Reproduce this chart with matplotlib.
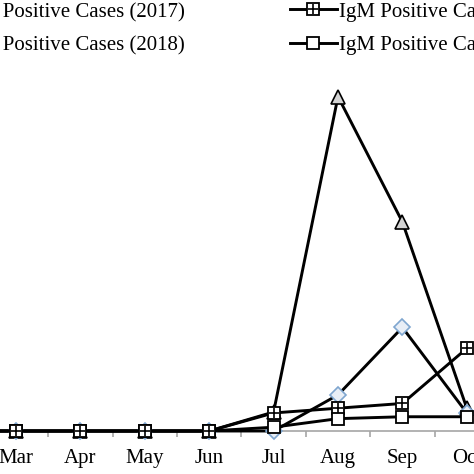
import numpy as np
import matplotlib
matplotlib.use("Agg")
import matplotlib.pyplot as plt

plt.rcParams['font.family'] = ['Liberation Serif', 'DejaVu Serif']

months = ["Jan", "Feb", "Mar", "Apr", "May", "Jun", "Jul", "Aug", "Sep", "Oct"]
igg_2017 = [0, 0, 0, 0, 0, 0, 2.0, 35.2, 22.0, 2.4]
igg_2018 = [0, 0, 0, 0, 0, 0, 0, 3.8, 10.9, 1.9]
igm_2017 = [0, 0, 0, 0, 0, 0, 1.9, 2.4, 2.9, 8.7]
igm_2018 = [0, 0, 0, 0, 0, 0, 0.4, 1.3, 1.5, 1.5]

x = np.arange(len(months))

fig = plt.figure(figsize=(4.74, 4.74), dpi=100)
ax = fig.add_axes([0, 43 / 474, 1, 431 / 474])

lw = 2.1
l1, = ax.plot(x, igg_2017, color='black', lw=lw, marker='^', ms=9.5,
              mfc='#d4d4d4', mec='black', mew=1.2, clip_on=False, zorder=3)
l2, = ax.plot(x, igg_2018, color='black', lw=lw, marker='D', ms=8,
              mfc='#e8eef6', mec='#7fa6cf', mew=1.2, clip_on=False, zorder=3)
l3, = ax.plot(x, igm_2017, color='black', lw=lw, marker='s', ms=9,
              mfc='white', mec='black', mew=1.3, clip_on=False, zorder=4)
l3b, = ax.plot(x, igm_2017, ls='none', marker='+', ms=6.5,
               mec='black', mew=1.2, clip_on=False, zorder=5)
l4, = ax.plot(x, igm_2018, color='black', lw=lw, marker='s', ms=9,
              mfc='white', mec='black', mew=1.3, clip_on=False, zorder=4)

for s in ['left', 'right', 'top']:
    ax.spines[s].set_visible(False)
ax.spines['bottom'].set_color('#a6a6a6')
ax.spines['bottom'].set_linewidth(1.2)
ax.set_yticks([])

ax.set_xticks(np.arange(-0.5, len(months), 1))
ax.set_xticklabels([])
ax.tick_params(axis='x', which='major', length=4, color='#a6a6a6', width=1.2, direction='out')
ax.set_xticks(x, minor=True)
ax.set_xticklabels(months, minor=True, fontsize=15)
ax.tick_params(axis='x', which='minor', length=0, pad=13)

ax.set_xlim(2 - 16 / 64.4, 2 + 458 / 64.4)
ax.set_ylim(0, 431 / 9.5)

fig.legend([l1, l2, (l3, l3b), l4],
           ["IgG Positive Cases (2017)", "IgG Positive Cases (2018)",
            "IgM Positive Cases (2017)", "IgM Positive Cases (2018)"],
           ncol=2, loc='upper left', bbox_to_anchor=(-84 / 474, 1 - 2 / 474),
           frameon=False, fontsize=15, numpoints=1, handlelength=2.25,
           handletextpad=0.1, columnspacing=5.05, labelspacing=0.64,
           borderpad=0, borderaxespad=0)

fig.savefig("out.png", dpi=100)
